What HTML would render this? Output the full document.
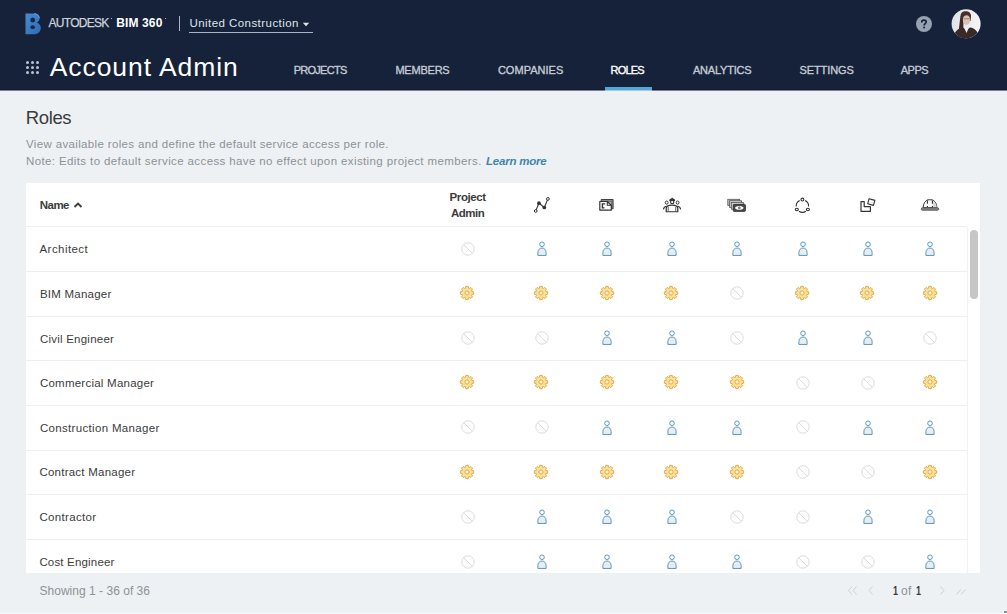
<!DOCTYPE html>
<html><head><meta charset="utf-8"><style>
html,body{margin:0;padding:0;}
body{width:1007px;height:614px;overflow:hidden;position:relative;background:#eef1f4;font-family:"Liberation Sans",sans-serif;}
.t{position:absolute;white-space:nowrap;}
svg{display:block;}
</style></head><body>
<div style="position:absolute;left:0;top:0;width:1007px;height:90px;background:#162239"></div><div style="position:absolute;left:0;top:89px;width:1007px;height:1px;background:#101a2d"></div><div style="position:absolute;left:0;top:90px;width:1007px;height:1px;background:#7c8491"></div><svg style="position:absolute;left:24px;top:12px" width="18" height="24" viewBox="0 0 18 24">
<defs><linearGradient id="bg" x1="0" y1="0" x2="1" y2="1"><stop offset="0" stop-color="#4a8bd2"/><stop offset="1" stop-color="#3069b3"/></linearGradient></defs>
<path d="M1.5 1.5 H10 C14 1.5 15.5 3.6 15.5 6.2 C15.5 8.4 14.3 9.8 12.6 10.6 C15 11.3 16.8 13.2 16.8 16 C16.8 19.7 14.3 22.3 9.6 22.3 H1.5 Z" fill="url(#bg)"/>
<ellipse cx="8.7" cy="8.0" rx="2.4" ry="2.5" fill="#15284a"/>
<ellipse cx="8.7" cy="15.2" rx="2.3" ry="1.9" fill="#15284a"/>
<path d="M10 1.8 C13.8 2 15.3 4 15.2 6.4" stroke="#7fb4e6" stroke-width="0.8" fill="none"/>
</svg><div class="t" style="left:48.6px;top:16px;font-size:12px;line-height:15px;color:#cdd3db;-webkit-text-stroke:0.25px #cdd3db;letter-spacing:-0.729px;">AUTODESK</div>
<div style="position:absolute;left:110.5px;top:18px;width:1.6px;height:1.3px;background:#aeb6c2"></div><div class="t" style="left:116.2px;top:16px;font-size:12px;line-height:15px;color:#ffffff;font-weight:bold;letter-spacing:0.133px;">BIM 360</div>
<div style="position:absolute;left:164.5px;top:18px;width:1.6px;height:1.3px;background:#aeb6c2"></div><div style="position:absolute;left:179px;top:16px;width:1px;height:15px;background:#aab4c2"></div><div class="t" style="left:189.4px;top:16px;font-size:11.5px;line-height:14px;color:#dfe4ea;letter-spacing:0.45px;">United Construction</div>
<svg style="position:absolute;left:302px;top:22px" width="8" height="5" viewBox="0 0 8 5"><path d="M0.8 0.8 H7.2 L4 4.2 Z" fill="#dfe4ea"/></svg><div style="position:absolute;left:189px;top:32px;width:124px;height:1px;background:#aab4c2"></div><svg style="position:absolute;left:916px;top:16px" width="16" height="16" viewBox="0 0 16 16"><circle cx="8" cy="8" r="8" fill="#96a2b2"/><path d="M5.7 6.4 C5.7 4.9 6.7 4.2 7.9 4.2 C9.2 4.2 10.2 5 10.2 6.1 C10.2 7.6 8.1 7.8 8.1 9.5" stroke="#17223a" stroke-width="1.7" fill="none"/><circle cx="8.1" cy="11.6" r="1.0" fill="#17223a"/></svg><svg style="position:absolute;left:951px;top:8.5px" width="30" height="30" viewBox="0 0 30 30">
<defs><clipPath id="av"><circle cx="15.1" cy="14.7" r="14.5"/></clipPath>
<linearGradient id="avbg" x1="0" y1="0" x2="1" y2="0"><stop offset="0" stop-color="#dfe3e7"/><stop offset="1" stop-color="#f3f5f7"/></linearGradient></defs>
<g clip-path="url(#av)">
<rect x="0" y="0" width="30" height="30" fill="url(#avbg)"/>
<path d="M9.5 7.5 C9.5 3.5 12 2.3 14.8 2.3 C18 2.3 20 4 20 7.5 L19.6 12 L11 12 Z" fill="#4b2f2a"/>
<path d="M9.6 7 C8.6 12 8.4 18 6.5 30 L12 30 L12.5 12 Z" fill="#3f2824"/>
<ellipse cx="15.5" cy="11" rx="3.7" ry="4.9" fill="#d9c2b4"/>
<path d="M11.6 8.2 C12.5 6 17 5.5 19.4 7.6 L19.5 5.5 C17 3.5 12.5 4 11.6 8.2Z" fill="#4b2f2a"/>
<path d="M12.5 9.8 H18.8" stroke="#6b5a55" stroke-width="0.6"/>
<path d="M2 30 C3 22.5 7 19 12 18.5 L15.5 21 L19 18.5 C24 19 27.5 22.5 28.5 30 Z" fill="#3a2a27"/>
<path d="M13.4 19.2 L15.5 24 L17.6 19.2 Z" fill="#f2f2f2"/>
</g>
</svg><div style="position:absolute;left:25.5px;top:60.5px;width:3.2px;height:3.2px;border-radius:50%;background:#b9c3d0"></div><div style="position:absolute;left:30.9px;top:60.5px;width:3.2px;height:3.2px;border-radius:50%;background:#b9c3d0"></div><div style="position:absolute;left:36.3px;top:60.5px;width:3.2px;height:3.2px;border-radius:50%;background:#b9c3d0"></div><div style="position:absolute;left:25.5px;top:65.9px;width:3.2px;height:3.2px;border-radius:50%;background:#b9c3d0"></div><div style="position:absolute;left:30.9px;top:65.9px;width:3.2px;height:3.2px;border-radius:50%;background:#b9c3d0"></div><div style="position:absolute;left:36.3px;top:65.9px;width:3.2px;height:3.2px;border-radius:50%;background:#b9c3d0"></div><div style="position:absolute;left:25.5px;top:71.3px;width:3.2px;height:3.2px;border-radius:50%;background:#b9c3d0"></div><div style="position:absolute;left:30.9px;top:71.3px;width:3.2px;height:3.2px;border-radius:50%;background:#b9c3d0"></div><div style="position:absolute;left:36.3px;top:71.3px;width:3.2px;height:3.2px;border-radius:50%;background:#b9c3d0"></div><div class="t" style="left:49.7px;top:51px;font-size:26.5px;line-height:33px;color:#ffffff;letter-spacing:0.942px;">Account Admin</div>
<div class="t" style="left:293.7px;top:63px;font-size:11px;line-height:14px;color:#c3cbd6;-webkit-text-stroke:0.35px #c3cbd6;letter-spacing:-0.729px;">PROJECTS</div>
<div class="t" style="left:395.4px;top:63px;font-size:11px;line-height:14px;color:#c3cbd6;-webkit-text-stroke:0.35px #c3cbd6;letter-spacing:-0.217px;">MEMBERS</div>
<div class="t" style="left:497.9px;top:63px;font-size:11px;line-height:14px;color:#c3cbd6;-webkit-text-stroke:0.35px #c3cbd6;letter-spacing:0.025px;">COMPANIES</div>
<div class="t" style="left:610.5px;top:63px;font-size:11px;line-height:14px;color:#ffffff;-webkit-text-stroke:0.35px #ffffff;letter-spacing:-0.775px;">ROLES</div>
<div class="t" style="left:692.9px;top:63px;font-size:11px;line-height:14px;color:#c3cbd6;-webkit-text-stroke:0.35px #c3cbd6;letter-spacing:-0.2px;">ANALYTICS</div>
<div class="t" style="left:799.5px;top:63px;font-size:11px;line-height:14px;color:#c3cbd6;-webkit-text-stroke:0.35px #c3cbd6;letter-spacing:-0.1px;">SETTINGS</div>
<div class="t" style="left:900.8px;top:63px;font-size:11px;line-height:14px;color:#c3cbd6;-webkit-text-stroke:0.35px #c3cbd6;letter-spacing:-0.533px;">APPS</div>
<div style="position:absolute;left:605px;top:87px;width:47px;height:3px;background:#52a6d8"></div><div style="position:absolute;left:605px;top:90px;width:47px;height:1px;background:#a3cbe2"></div><div class="t" style="left:25.8px;top:106px;font-size:18.5px;line-height:23px;color:#3c3c3c;letter-spacing:-0.375px;">Roles</div>
<div class="t" style="left:26.0px;top:137px;font-size:11.5px;line-height:14px;color:#8c9196;letter-spacing:0.348px;">View available roles and define the default service access per role.</div>
<div class="t" style="left:26.0px;top:154px;font-size:11.5px;line-height:14px;color:#8c9196;letter-spacing:0.387px;">Note: Edits to default service access have no effect upon existing project members.</div>
<div class="t" style="left:486.0px;top:154px;font-size:11.5px;line-height:14px;color:#3f85ab;font-weight:bold;font-style:italic;letter-spacing:-0.222px;">Learn more</div>
<div style="position:absolute;left:26px;top:183px;width:954px;height:390px;background:#ffffff"></div><div style="position:absolute;left:26px;top:226px;width:941px;height:1px;background:#eceff3"></div><div style="position:absolute;left:967px;top:227px;width:1px;height:346px;background:#f0f2f5"></div><div style="position:absolute;left:970px;top:230px;width:8px;height:69px;border-radius:4px;background:#c6c6c6"></div><div class="t" style="left:39.8px;top:198px;font-size:11.5px;line-height:14px;color:#3c3c3c;font-weight:bold;letter-spacing:-0.533px;">Name</div>
<svg style="position:absolute;left:73px;top:200.8px" width="10" height="8" viewBox="0 0 10 8"><path d="M1.5 6 L5 2.5 L8.5 6" stroke="#3c3c3c" stroke-width="1.8" fill="none"/></svg><div class="t" style="left:449.6px;top:190px;font-size:11.5px;line-height:14px;color:#3c3c3c;font-weight:bold;letter-spacing:-0.4px;">Project</div>
<div class="t" style="left:450.9px;top:206px;font-size:11.5px;line-height:14px;color:#3c3c3c;font-weight:bold;letter-spacing:-0.5px;">Admin</div>
<svg style="position:absolute;left:530px;top:195px" width="24" height="20" viewBox="0 0 24 20"><path d="M5.7 16 L8.96 8.14 L14.3 12.5 L17.9 3.9" stroke="#333333" stroke-width="1.1" fill="none"/><circle cx="5.7" cy="16" r="1.35" fill="#fff" stroke="#333333" stroke-width="1.0"/><circle cx="8.96" cy="8.14" r="1.85" fill="#333333"/><circle cx="14.3" cy="12.5" r="1.85" fill="#333333"/><circle cx="17.9" cy="3.9" r="1.4" fill="#fff" stroke="#333333" stroke-width="1.0"/></svg><svg style="position:absolute;left:594px;top:193px" width="26" height="22" viewBox="0 0 26 22"><path d="M7.2 6.5 H19.1 V15.8 H17.3 V8.5 H7.2 Z" fill="#8a8a8a" stroke="#333333" stroke-width="0.9" stroke-linejoin="round"/><path d="M13.3 8.5 H17.3 V12.4 Z" fill="#b5b5b5"/><path d="M5.8 8.5 H13.3 L17.3 12.4 V17.1 H5.8 Z" fill="#fff" stroke="#333333" stroke-width="1.2" stroke-linejoin="round"/><path d="M13.3 8.6 V12.3 H17.2" stroke="#333333" stroke-width="1.1" fill="none"/><path d="M11.2 10.9 H8.4 V14.9 H10.4" stroke="#333333" stroke-width="1.4" fill="none"/></svg><svg style="position:absolute;left:660px;top:194px" width="24" height="20" viewBox="0 0 24 20"><path d="M6.2 17.75 V14.5 C6.2 12.4 8.6 11.2 12 11.2 C15.4 11.2 17.8 12.4 17.8 14.5 V17.75 Z" fill="#fff" stroke="#333333" stroke-width="1.2" stroke-linejoin="round"/><path d="M8.2 13 V17.2 M15.8 13 V17.2" stroke="#333333" stroke-width="0.8"/><circle cx="12.2" cy="8.1" r="1.7" fill="#fff" stroke="#333333" stroke-width="1.1"/><path d="M9.2 7 C9.2 5.2 10.5 4.6 12.2 4.6 C13.9 4.6 15.2 5.2 15.2 7 Z" fill="#333333"/><rect x="11.6" y="3.8" width="1.2" height="1.4" fill="#333333"/><ellipse cx="6.7" cy="8.6" rx="1.4" ry="1.6" fill="#fff" stroke="#333333" stroke-width="1.0"/><ellipse cx="17.6" cy="8.6" rx="1.4" ry="1.6" fill="#fff" stroke="#333333" stroke-width="1.0"/><path d="M3.4 15.4 C3.8 13.6 5 12.5 6.8 12.3" stroke="#333333" stroke-width="1.1" fill="none"/><path d="M20.7 15.4 C20.3 13.6 19.1 12.5 17.3 12.3" stroke="#333333" stroke-width="1.1" fill="none"/></svg><svg style="position:absolute;left:725px;top:194px" width="24" height="20" viewBox="0 0 24 20"><rect x="2.8" y="5.3" width="11.8" height="6.2" fill="#c4c4c4" stroke="#555" stroke-width="0.8"/><rect x="4.6" y="6.7" width="11.9" height="6.8" fill="#cdcdcd" stroke="#555" stroke-width="0.8"/><rect x="6.3" y="8.4" width="12" height="6.8" fill="#d4d4d4" stroke="#555" stroke-width="0.8"/><rect x="8.3" y="10.4" width="12" height="6.9" rx="0.6" fill="#4a4a4a" stroke="#333" stroke-width="1.0"/><path d="M9.9 13.9 C11.6 11.3 17 11.3 18.7 13.9 C17 16.5 11.6 16.5 9.9 13.9 Z" fill="#fff"/><circle cx="14.3" cy="13.8" r="1.5" fill="#888"/></svg><svg style="position:absolute;left:790px;top:194px" width="24" height="20" viewBox="0 0 24 20"><path d="M15.12 6.48 A6.2 6.2 0 0 1 18.58 12.48 M15.87 17.19 A6.2 6.2 0 0 1 8.93 17.19 M6.22 12.48 A6.2 6.2 0 0 1 9.68 6.48 " fill="none" stroke="#333333" stroke-width="1.1"/><circle cx="12.4" cy="5.6" r="1.45" fill="#fff" stroke="#333333" stroke-width="1.1"/><ellipse cx="6.8" cy="15.5" rx="1.55" ry="1.25" fill="#fff" stroke="#333333" stroke-width="1.1"/><ellipse cx="17.9" cy="15.5" rx="1.55" ry="1.25" fill="#fff" stroke="#333333" stroke-width="1.1"/></svg><svg style="position:absolute;left:856px;top:194px" width="24" height="20" viewBox="0 0 24 20"><path d="M5 7.6 H8.2 V12.6 H14.4 V17.3 H5 Z" fill="#fff" stroke="#333333" stroke-width="1.2" stroke-linejoin="round"/><path d="M13.1 4.7 L18.9 6.4 L17.4 11.4 L11.7 9.7 Z" fill="#f4f4f4" stroke="#333333" stroke-width="1.1" stroke-linejoin="round"/></svg><svg style="position:absolute;left:918px;top:194px" width="24" height="20" viewBox="0 0 24 20"><path d="M5.2 13.8 C5.3 8.6 8 5.6 12 5.6 C16 5.6 18.8 8.6 18.9 13.8 Z" fill="#fff" stroke="#333333" stroke-width="1.0"/><path d="M14.6 6.4 C17 7.6 18.6 10 18.8 13.6 H14.6 Z" fill="#d8d8d8"/><path d="M9.4 5.6 H14.4" stroke="#777" stroke-width="1.2"/><path d="M9.4 6.6 V9.8 M14.4 6.6 V9.8 M9.4 11.9 V13.6 M14.4 11.9 V13.6" stroke="#333333" stroke-width="1.1"/><rect x="3.3" y="13.8" width="17.4" height="2.4" rx="1.1" fill="#8c8c8c" stroke="#444" stroke-width="0.8"/></svg><div style="position:absolute;left:26px;top:271px;width:941px;height:1px;background:#eceff3"></div><div class="t" style="left:39.5px;top:242px;font-size:11.5px;line-height:14px;color:#3c3c3c;letter-spacing:0.438px;">Architect</div>
<div style="position:absolute;left:459.50px;top:240.50px;width:16px;height:16px"><svg width="16" height="16" viewBox="0 0 16 16"><circle cx="8" cy="8" r="6.2" fill="none" stroke="#d9dcdf" stroke-width="1.0"/><path d="M3.7 3.7 L12.3 12.3" stroke="#d9dcdf" stroke-width="1.0"/></svg></div><div style="position:absolute;left:533.70px;top:240.70px;width:16px;height:16px"><svg width="16" height="16" viewBox="0 0 16 16"><circle cx="8" cy="3.25" r="2.3" fill="#fff" stroke="#4f94ba" stroke-width="0.95"/><path d="M3.9 14.45 V11.7 C3.9 8.7 5.8 7.0 8 7.0 C10.2 7.0 12.1 8.7 12.1 11.7 V14.45 Z" fill="#eaedf0" stroke="#4f94ba" stroke-width="0.95" stroke-linejoin="round"/></svg></div><div style="position:absolute;left:598.90px;top:240.70px;width:16px;height:16px"><svg width="16" height="16" viewBox="0 0 16 16"><circle cx="8" cy="3.25" r="2.3" fill="#fff" stroke="#4f94ba" stroke-width="0.95"/><path d="M3.9 14.45 V11.7 C3.9 8.7 5.8 7.0 8 7.0 C10.2 7.0 12.1 8.7 12.1 11.7 V14.45 Z" fill="#eaedf0" stroke="#4f94ba" stroke-width="0.95" stroke-linejoin="round"/></svg></div><div style="position:absolute;left:663.70px;top:240.70px;width:16px;height:16px"><svg width="16" height="16" viewBox="0 0 16 16"><circle cx="8" cy="3.25" r="2.3" fill="#fff" stroke="#4f94ba" stroke-width="0.95"/><path d="M3.9 14.45 V11.7 C3.9 8.7 5.8 7.0 8 7.0 C10.2 7.0 12.1 8.7 12.1 11.7 V14.45 Z" fill="#eaedf0" stroke="#4f94ba" stroke-width="0.95" stroke-linejoin="round"/></svg></div><div style="position:absolute;left:729.30px;top:240.70px;width:16px;height:16px"><svg width="16" height="16" viewBox="0 0 16 16"><circle cx="8" cy="3.25" r="2.3" fill="#fff" stroke="#4f94ba" stroke-width="0.95"/><path d="M3.9 14.45 V11.7 C3.9 8.7 5.8 7.0 8 7.0 C10.2 7.0 12.1 8.7 12.1 11.7 V14.45 Z" fill="#eaedf0" stroke="#4f94ba" stroke-width="0.95" stroke-linejoin="round"/></svg></div><div style="position:absolute;left:794.50px;top:240.70px;width:16px;height:16px"><svg width="16" height="16" viewBox="0 0 16 16"><circle cx="8" cy="3.25" r="2.3" fill="#fff" stroke="#4f94ba" stroke-width="0.95"/><path d="M3.9 14.45 V11.7 C3.9 8.7 5.8 7.0 8 7.0 C10.2 7.0 12.1 8.7 12.1 11.7 V14.45 Z" fill="#eaedf0" stroke="#4f94ba" stroke-width="0.95" stroke-linejoin="round"/></svg></div><div style="position:absolute;left:859.50px;top:240.70px;width:16px;height:16px"><svg width="16" height="16" viewBox="0 0 16 16"><circle cx="8" cy="3.25" r="2.3" fill="#fff" stroke="#4f94ba" stroke-width="0.95"/><path d="M3.9 14.45 V11.7 C3.9 8.7 5.8 7.0 8 7.0 C10.2 7.0 12.1 8.7 12.1 11.7 V14.45 Z" fill="#eaedf0" stroke="#4f94ba" stroke-width="0.95" stroke-linejoin="round"/></svg></div><div style="position:absolute;left:922.00px;top:240.70px;width:16px;height:16px"><svg width="16" height="16" viewBox="0 0 16 16"><circle cx="8" cy="3.25" r="2.3" fill="#fff" stroke="#4f94ba" stroke-width="0.95"/><path d="M3.9 14.45 V11.7 C3.9 8.7 5.8 7.0 8 7.0 C10.2 7.0 12.1 8.7 12.1 11.7 V14.45 Z" fill="#eaedf0" stroke="#4f94ba" stroke-width="0.95" stroke-linejoin="round"/></svg></div><div style="position:absolute;left:26px;top:316px;width:941px;height:1px;background:#eceff3"></div><div class="t" style="left:39.9px;top:287px;font-size:11.5px;line-height:14px;color:#3c3c3c;letter-spacing:0.24px;">BIM Manager</div>
<div style="position:absolute;left:459.10px;top:285.00px;width:16px;height:16px"><svg width="16" height="16" viewBox="0 0 16 16"><path d="M6.37 3.27 L6.83 1.35 L9.17 1.35 L9.63 3.27 L10.19 3.51 L11.87 2.47 L13.53 4.13 L12.49 5.81 L12.73 6.37 L14.65 6.83 L14.65 9.17 L12.73 9.63 L12.49 10.19 L13.53 11.87 L11.87 13.53 L10.19 12.49 L9.63 12.73 L9.17 14.65 L6.83 14.65 L6.37 12.73 L5.81 12.49 L4.13 13.53 L2.47 11.87 L3.51 10.19 L3.27 9.63 L1.35 9.17 L1.35 6.83 L3.27 6.37 L3.51 5.81 L2.47 4.13 L4.13 2.47 L5.81 3.51Z" fill="#fbe09a" stroke="#dca744" stroke-width="0.95" stroke-linejoin="round"/><circle cx="8" cy="8" r="2.1" fill="#fff3cc" stroke="#dca744" stroke-width="0.9"/></svg></div><div style="position:absolute;left:533.30px;top:285.00px;width:16px;height:16px"><svg width="16" height="16" viewBox="0 0 16 16"><path d="M6.37 3.27 L6.83 1.35 L9.17 1.35 L9.63 3.27 L10.19 3.51 L11.87 2.47 L13.53 4.13 L12.49 5.81 L12.73 6.37 L14.65 6.83 L14.65 9.17 L12.73 9.63 L12.49 10.19 L13.53 11.87 L11.87 13.53 L10.19 12.49 L9.63 12.73 L9.17 14.65 L6.83 14.65 L6.37 12.73 L5.81 12.49 L4.13 13.53 L2.47 11.87 L3.51 10.19 L3.27 9.63 L1.35 9.17 L1.35 6.83 L3.27 6.37 L3.51 5.81 L2.47 4.13 L4.13 2.47 L5.81 3.51Z" fill="#fbe09a" stroke="#dca744" stroke-width="0.95" stroke-linejoin="round"/><circle cx="8" cy="8" r="2.1" fill="#fff3cc" stroke="#dca744" stroke-width="0.9"/></svg></div><div style="position:absolute;left:598.50px;top:285.00px;width:16px;height:16px"><svg width="16" height="16" viewBox="0 0 16 16"><path d="M6.37 3.27 L6.83 1.35 L9.17 1.35 L9.63 3.27 L10.19 3.51 L11.87 2.47 L13.53 4.13 L12.49 5.81 L12.73 6.37 L14.65 6.83 L14.65 9.17 L12.73 9.63 L12.49 10.19 L13.53 11.87 L11.87 13.53 L10.19 12.49 L9.63 12.73 L9.17 14.65 L6.83 14.65 L6.37 12.73 L5.81 12.49 L4.13 13.53 L2.47 11.87 L3.51 10.19 L3.27 9.63 L1.35 9.17 L1.35 6.83 L3.27 6.37 L3.51 5.81 L2.47 4.13 L4.13 2.47 L5.81 3.51Z" fill="#fbe09a" stroke="#dca744" stroke-width="0.95" stroke-linejoin="round"/><circle cx="8" cy="8" r="2.1" fill="#fff3cc" stroke="#dca744" stroke-width="0.9"/></svg></div><div style="position:absolute;left:663.30px;top:285.00px;width:16px;height:16px"><svg width="16" height="16" viewBox="0 0 16 16"><path d="M6.37 3.27 L6.83 1.35 L9.17 1.35 L9.63 3.27 L10.19 3.51 L11.87 2.47 L13.53 4.13 L12.49 5.81 L12.73 6.37 L14.65 6.83 L14.65 9.17 L12.73 9.63 L12.49 10.19 L13.53 11.87 L11.87 13.53 L10.19 12.49 L9.63 12.73 L9.17 14.65 L6.83 14.65 L6.37 12.73 L5.81 12.49 L4.13 13.53 L2.47 11.87 L3.51 10.19 L3.27 9.63 L1.35 9.17 L1.35 6.83 L3.27 6.37 L3.51 5.81 L2.47 4.13 L4.13 2.47 L5.81 3.51Z" fill="#fbe09a" stroke="#dca744" stroke-width="0.95" stroke-linejoin="round"/><circle cx="8" cy="8" r="2.1" fill="#fff3cc" stroke="#dca744" stroke-width="0.9"/></svg></div><div style="position:absolute;left:729.30px;top:285.23px;width:16px;height:16px"><svg width="16" height="16" viewBox="0 0 16 16"><circle cx="8" cy="8" r="6.2" fill="none" stroke="#d9dcdf" stroke-width="1.0"/><path d="M3.7 3.7 L12.3 12.3" stroke="#d9dcdf" stroke-width="1.0"/></svg></div><div style="position:absolute;left:794.10px;top:285.00px;width:16px;height:16px"><svg width="16" height="16" viewBox="0 0 16 16"><path d="M6.37 3.27 L6.83 1.35 L9.17 1.35 L9.63 3.27 L10.19 3.51 L11.87 2.47 L13.53 4.13 L12.49 5.81 L12.73 6.37 L14.65 6.83 L14.65 9.17 L12.73 9.63 L12.49 10.19 L13.53 11.87 L11.87 13.53 L10.19 12.49 L9.63 12.73 L9.17 14.65 L6.83 14.65 L6.37 12.73 L5.81 12.49 L4.13 13.53 L2.47 11.87 L3.51 10.19 L3.27 9.63 L1.35 9.17 L1.35 6.83 L3.27 6.37 L3.51 5.81 L2.47 4.13 L4.13 2.47 L5.81 3.51Z" fill="#fbe09a" stroke="#dca744" stroke-width="0.95" stroke-linejoin="round"/><circle cx="8" cy="8" r="2.1" fill="#fff3cc" stroke="#dca744" stroke-width="0.9"/></svg></div><div style="position:absolute;left:859.10px;top:285.00px;width:16px;height:16px"><svg width="16" height="16" viewBox="0 0 16 16"><path d="M6.37 3.27 L6.83 1.35 L9.17 1.35 L9.63 3.27 L10.19 3.51 L11.87 2.47 L13.53 4.13 L12.49 5.81 L12.73 6.37 L14.65 6.83 L14.65 9.17 L12.73 9.63 L12.49 10.19 L13.53 11.87 L11.87 13.53 L10.19 12.49 L9.63 12.73 L9.17 14.65 L6.83 14.65 L6.37 12.73 L5.81 12.49 L4.13 13.53 L2.47 11.87 L3.51 10.19 L3.27 9.63 L1.35 9.17 L1.35 6.83 L3.27 6.37 L3.51 5.81 L2.47 4.13 L4.13 2.47 L5.81 3.51Z" fill="#fbe09a" stroke="#dca744" stroke-width="0.95" stroke-linejoin="round"/><circle cx="8" cy="8" r="2.1" fill="#fff3cc" stroke="#dca744" stroke-width="0.9"/></svg></div><div style="position:absolute;left:921.60px;top:285.00px;width:16px;height:16px"><svg width="16" height="16" viewBox="0 0 16 16"><path d="M6.37 3.27 L6.83 1.35 L9.17 1.35 L9.63 3.27 L10.19 3.51 L11.87 2.47 L13.53 4.13 L12.49 5.81 L12.73 6.37 L14.65 6.83 L14.65 9.17 L12.73 9.63 L12.49 10.19 L13.53 11.87 L11.87 13.53 L10.19 12.49 L9.63 12.73 L9.17 14.65 L6.83 14.65 L6.37 12.73 L5.81 12.49 L4.13 13.53 L2.47 11.87 L3.51 10.19 L3.27 9.63 L1.35 9.17 L1.35 6.83 L3.27 6.37 L3.51 5.81 L2.47 4.13 L4.13 2.47 L5.81 3.51Z" fill="#fbe09a" stroke="#dca744" stroke-width="0.95" stroke-linejoin="round"/><circle cx="8" cy="8" r="2.1" fill="#fff3cc" stroke="#dca744" stroke-width="0.9"/></svg></div><div style="position:absolute;left:26px;top:360px;width:941px;height:1px;background:#eceff3"></div><div class="t" style="left:39.9px;top:332px;font-size:11.5px;line-height:14px;color:#3c3c3c;letter-spacing:0.231px;">Civil Engineer</div>
<div style="position:absolute;left:459.50px;top:329.96px;width:16px;height:16px"><svg width="16" height="16" viewBox="0 0 16 16"><circle cx="8" cy="8" r="6.2" fill="none" stroke="#d9dcdf" stroke-width="1.0"/><path d="M3.7 3.7 L12.3 12.3" stroke="#d9dcdf" stroke-width="1.0"/></svg></div><div style="position:absolute;left:533.70px;top:329.96px;width:16px;height:16px"><svg width="16" height="16" viewBox="0 0 16 16"><circle cx="8" cy="8" r="6.2" fill="none" stroke="#d9dcdf" stroke-width="1.0"/><path d="M3.7 3.7 L12.3 12.3" stroke="#d9dcdf" stroke-width="1.0"/></svg></div><div style="position:absolute;left:598.90px;top:330.16px;width:16px;height:16px"><svg width="16" height="16" viewBox="0 0 16 16"><circle cx="8" cy="3.25" r="2.3" fill="#fff" stroke="#4f94ba" stroke-width="0.95"/><path d="M3.9 14.45 V11.7 C3.9 8.7 5.8 7.0 8 7.0 C10.2 7.0 12.1 8.7 12.1 11.7 V14.45 Z" fill="#eaedf0" stroke="#4f94ba" stroke-width="0.95" stroke-linejoin="round"/></svg></div><div style="position:absolute;left:663.70px;top:330.16px;width:16px;height:16px"><svg width="16" height="16" viewBox="0 0 16 16"><circle cx="8" cy="3.25" r="2.3" fill="#fff" stroke="#4f94ba" stroke-width="0.95"/><path d="M3.9 14.45 V11.7 C3.9 8.7 5.8 7.0 8 7.0 C10.2 7.0 12.1 8.7 12.1 11.7 V14.45 Z" fill="#eaedf0" stroke="#4f94ba" stroke-width="0.95" stroke-linejoin="round"/></svg></div><div style="position:absolute;left:729.30px;top:329.96px;width:16px;height:16px"><svg width="16" height="16" viewBox="0 0 16 16"><circle cx="8" cy="8" r="6.2" fill="none" stroke="#d9dcdf" stroke-width="1.0"/><path d="M3.7 3.7 L12.3 12.3" stroke="#d9dcdf" stroke-width="1.0"/></svg></div><div style="position:absolute;left:794.50px;top:330.16px;width:16px;height:16px"><svg width="16" height="16" viewBox="0 0 16 16"><circle cx="8" cy="3.25" r="2.3" fill="#fff" stroke="#4f94ba" stroke-width="0.95"/><path d="M3.9 14.45 V11.7 C3.9 8.7 5.8 7.0 8 7.0 C10.2 7.0 12.1 8.7 12.1 11.7 V14.45 Z" fill="#eaedf0" stroke="#4f94ba" stroke-width="0.95" stroke-linejoin="round"/></svg></div><div style="position:absolute;left:859.50px;top:330.16px;width:16px;height:16px"><svg width="16" height="16" viewBox="0 0 16 16"><circle cx="8" cy="3.25" r="2.3" fill="#fff" stroke="#4f94ba" stroke-width="0.95"/><path d="M3.9 14.45 V11.7 C3.9 8.7 5.8 7.0 8 7.0 C10.2 7.0 12.1 8.7 12.1 11.7 V14.45 Z" fill="#eaedf0" stroke="#4f94ba" stroke-width="0.95" stroke-linejoin="round"/></svg></div><div style="position:absolute;left:922.00px;top:329.96px;width:16px;height:16px"><svg width="16" height="16" viewBox="0 0 16 16"><circle cx="8" cy="8" r="6.2" fill="none" stroke="#d9dcdf" stroke-width="1.0"/><path d="M3.7 3.7 L12.3 12.3" stroke="#d9dcdf" stroke-width="1.0"/></svg></div><div style="position:absolute;left:26px;top:405px;width:941px;height:1px;background:#eceff3"></div><div class="t" style="left:39.9px;top:376px;font-size:11.5px;line-height:14px;color:#3c3c3c;letter-spacing:0.241px;">Commercial Manager</div>
<div style="position:absolute;left:459.10px;top:374.46px;width:16px;height:16px"><svg width="16" height="16" viewBox="0 0 16 16"><path d="M6.37 3.27 L6.83 1.35 L9.17 1.35 L9.63 3.27 L10.19 3.51 L11.87 2.47 L13.53 4.13 L12.49 5.81 L12.73 6.37 L14.65 6.83 L14.65 9.17 L12.73 9.63 L12.49 10.19 L13.53 11.87 L11.87 13.53 L10.19 12.49 L9.63 12.73 L9.17 14.65 L6.83 14.65 L6.37 12.73 L5.81 12.49 L4.13 13.53 L2.47 11.87 L3.51 10.19 L3.27 9.63 L1.35 9.17 L1.35 6.83 L3.27 6.37 L3.51 5.81 L2.47 4.13 L4.13 2.47 L5.81 3.51Z" fill="#fbe09a" stroke="#dca744" stroke-width="0.95" stroke-linejoin="round"/><circle cx="8" cy="8" r="2.1" fill="#fff3cc" stroke="#dca744" stroke-width="0.9"/></svg></div><div style="position:absolute;left:533.30px;top:374.46px;width:16px;height:16px"><svg width="16" height="16" viewBox="0 0 16 16"><path d="M6.37 3.27 L6.83 1.35 L9.17 1.35 L9.63 3.27 L10.19 3.51 L11.87 2.47 L13.53 4.13 L12.49 5.81 L12.73 6.37 L14.65 6.83 L14.65 9.17 L12.73 9.63 L12.49 10.19 L13.53 11.87 L11.87 13.53 L10.19 12.49 L9.63 12.73 L9.17 14.65 L6.83 14.65 L6.37 12.73 L5.81 12.49 L4.13 13.53 L2.47 11.87 L3.51 10.19 L3.27 9.63 L1.35 9.17 L1.35 6.83 L3.27 6.37 L3.51 5.81 L2.47 4.13 L4.13 2.47 L5.81 3.51Z" fill="#fbe09a" stroke="#dca744" stroke-width="0.95" stroke-linejoin="round"/><circle cx="8" cy="8" r="2.1" fill="#fff3cc" stroke="#dca744" stroke-width="0.9"/></svg></div><div style="position:absolute;left:598.50px;top:374.46px;width:16px;height:16px"><svg width="16" height="16" viewBox="0 0 16 16"><path d="M6.37 3.27 L6.83 1.35 L9.17 1.35 L9.63 3.27 L10.19 3.51 L11.87 2.47 L13.53 4.13 L12.49 5.81 L12.73 6.37 L14.65 6.83 L14.65 9.17 L12.73 9.63 L12.49 10.19 L13.53 11.87 L11.87 13.53 L10.19 12.49 L9.63 12.73 L9.17 14.65 L6.83 14.65 L6.37 12.73 L5.81 12.49 L4.13 13.53 L2.47 11.87 L3.51 10.19 L3.27 9.63 L1.35 9.17 L1.35 6.83 L3.27 6.37 L3.51 5.81 L2.47 4.13 L4.13 2.47 L5.81 3.51Z" fill="#fbe09a" stroke="#dca744" stroke-width="0.95" stroke-linejoin="round"/><circle cx="8" cy="8" r="2.1" fill="#fff3cc" stroke="#dca744" stroke-width="0.9"/></svg></div><div style="position:absolute;left:663.30px;top:374.46px;width:16px;height:16px"><svg width="16" height="16" viewBox="0 0 16 16"><path d="M6.37 3.27 L6.83 1.35 L9.17 1.35 L9.63 3.27 L10.19 3.51 L11.87 2.47 L13.53 4.13 L12.49 5.81 L12.73 6.37 L14.65 6.83 L14.65 9.17 L12.73 9.63 L12.49 10.19 L13.53 11.87 L11.87 13.53 L10.19 12.49 L9.63 12.73 L9.17 14.65 L6.83 14.65 L6.37 12.73 L5.81 12.49 L4.13 13.53 L2.47 11.87 L3.51 10.19 L3.27 9.63 L1.35 9.17 L1.35 6.83 L3.27 6.37 L3.51 5.81 L2.47 4.13 L4.13 2.47 L5.81 3.51Z" fill="#fbe09a" stroke="#dca744" stroke-width="0.95" stroke-linejoin="round"/><circle cx="8" cy="8" r="2.1" fill="#fff3cc" stroke="#dca744" stroke-width="0.9"/></svg></div><div style="position:absolute;left:728.90px;top:374.46px;width:16px;height:16px"><svg width="16" height="16" viewBox="0 0 16 16"><path d="M6.37 3.27 L6.83 1.35 L9.17 1.35 L9.63 3.27 L10.19 3.51 L11.87 2.47 L13.53 4.13 L12.49 5.81 L12.73 6.37 L14.65 6.83 L14.65 9.17 L12.73 9.63 L12.49 10.19 L13.53 11.87 L11.87 13.53 L10.19 12.49 L9.63 12.73 L9.17 14.65 L6.83 14.65 L6.37 12.73 L5.81 12.49 L4.13 13.53 L2.47 11.87 L3.51 10.19 L3.27 9.63 L1.35 9.17 L1.35 6.83 L3.27 6.37 L3.51 5.81 L2.47 4.13 L4.13 2.47 L5.81 3.51Z" fill="#fbe09a" stroke="#dca744" stroke-width="0.95" stroke-linejoin="round"/><circle cx="8" cy="8" r="2.1" fill="#fff3cc" stroke="#dca744" stroke-width="0.9"/></svg></div><div style="position:absolute;left:794.50px;top:374.69px;width:16px;height:16px"><svg width="16" height="16" viewBox="0 0 16 16"><circle cx="8" cy="8" r="6.2" fill="none" stroke="#d9dcdf" stroke-width="1.0"/><path d="M3.7 3.7 L12.3 12.3" stroke="#d9dcdf" stroke-width="1.0"/></svg></div><div style="position:absolute;left:859.50px;top:374.69px;width:16px;height:16px"><svg width="16" height="16" viewBox="0 0 16 16"><circle cx="8" cy="8" r="6.2" fill="none" stroke="#d9dcdf" stroke-width="1.0"/><path d="M3.7 3.7 L12.3 12.3" stroke="#d9dcdf" stroke-width="1.0"/></svg></div><div style="position:absolute;left:921.60px;top:374.46px;width:16px;height:16px"><svg width="16" height="16" viewBox="0 0 16 16"><path d="M6.37 3.27 L6.83 1.35 L9.17 1.35 L9.63 3.27 L10.19 3.51 L11.87 2.47 L13.53 4.13 L12.49 5.81 L12.73 6.37 L14.65 6.83 L14.65 9.17 L12.73 9.63 L12.49 10.19 L13.53 11.87 L11.87 13.53 L10.19 12.49 L9.63 12.73 L9.17 14.65 L6.83 14.65 L6.37 12.73 L5.81 12.49 L4.13 13.53 L2.47 11.87 L3.51 10.19 L3.27 9.63 L1.35 9.17 L1.35 6.83 L3.27 6.37 L3.51 5.81 L2.47 4.13 L4.13 2.47 L5.81 3.51Z" fill="#fbe09a" stroke="#dca744" stroke-width="0.95" stroke-linejoin="round"/><circle cx="8" cy="8" r="2.1" fill="#fff3cc" stroke="#dca744" stroke-width="0.9"/></svg></div><div style="position:absolute;left:26px;top:450px;width:941px;height:1px;background:#eceff3"></div><div class="t" style="left:39.9px;top:421px;font-size:11.5px;line-height:14px;color:#3c3c3c;letter-spacing:0.332px;">Construction Manager</div>
<div style="position:absolute;left:459.50px;top:419.42px;width:16px;height:16px"><svg width="16" height="16" viewBox="0 0 16 16"><circle cx="8" cy="8" r="6.2" fill="none" stroke="#d9dcdf" stroke-width="1.0"/><path d="M3.7 3.7 L12.3 12.3" stroke="#d9dcdf" stroke-width="1.0"/></svg></div><div style="position:absolute;left:533.70px;top:419.42px;width:16px;height:16px"><svg width="16" height="16" viewBox="0 0 16 16"><circle cx="8" cy="8" r="6.2" fill="none" stroke="#d9dcdf" stroke-width="1.0"/><path d="M3.7 3.7 L12.3 12.3" stroke="#d9dcdf" stroke-width="1.0"/></svg></div><div style="position:absolute;left:598.90px;top:419.62px;width:16px;height:16px"><svg width="16" height="16" viewBox="0 0 16 16"><circle cx="8" cy="3.25" r="2.3" fill="#fff" stroke="#4f94ba" stroke-width="0.95"/><path d="M3.9 14.45 V11.7 C3.9 8.7 5.8 7.0 8 7.0 C10.2 7.0 12.1 8.7 12.1 11.7 V14.45 Z" fill="#eaedf0" stroke="#4f94ba" stroke-width="0.95" stroke-linejoin="round"/></svg></div><div style="position:absolute;left:663.70px;top:419.62px;width:16px;height:16px"><svg width="16" height="16" viewBox="0 0 16 16"><circle cx="8" cy="3.25" r="2.3" fill="#fff" stroke="#4f94ba" stroke-width="0.95"/><path d="M3.9 14.45 V11.7 C3.9 8.7 5.8 7.0 8 7.0 C10.2 7.0 12.1 8.7 12.1 11.7 V14.45 Z" fill="#eaedf0" stroke="#4f94ba" stroke-width="0.95" stroke-linejoin="round"/></svg></div><div style="position:absolute;left:729.30px;top:419.62px;width:16px;height:16px"><svg width="16" height="16" viewBox="0 0 16 16"><circle cx="8" cy="3.25" r="2.3" fill="#fff" stroke="#4f94ba" stroke-width="0.95"/><path d="M3.9 14.45 V11.7 C3.9 8.7 5.8 7.0 8 7.0 C10.2 7.0 12.1 8.7 12.1 11.7 V14.45 Z" fill="#eaedf0" stroke="#4f94ba" stroke-width="0.95" stroke-linejoin="round"/></svg></div><div style="position:absolute;left:794.50px;top:419.42px;width:16px;height:16px"><svg width="16" height="16" viewBox="0 0 16 16"><circle cx="8" cy="8" r="6.2" fill="none" stroke="#d9dcdf" stroke-width="1.0"/><path d="M3.7 3.7 L12.3 12.3" stroke="#d9dcdf" stroke-width="1.0"/></svg></div><div style="position:absolute;left:859.50px;top:419.62px;width:16px;height:16px"><svg width="16" height="16" viewBox="0 0 16 16"><circle cx="8" cy="3.25" r="2.3" fill="#fff" stroke="#4f94ba" stroke-width="0.95"/><path d="M3.9 14.45 V11.7 C3.9 8.7 5.8 7.0 8 7.0 C10.2 7.0 12.1 8.7 12.1 11.7 V14.45 Z" fill="#eaedf0" stroke="#4f94ba" stroke-width="0.95" stroke-linejoin="round"/></svg></div><div style="position:absolute;left:922.00px;top:419.62px;width:16px;height:16px"><svg width="16" height="16" viewBox="0 0 16 16"><circle cx="8" cy="3.25" r="2.3" fill="#fff" stroke="#4f94ba" stroke-width="0.95"/><path d="M3.9 14.45 V11.7 C3.9 8.7 5.8 7.0 8 7.0 C10.2 7.0 12.1 8.7 12.1 11.7 V14.45 Z" fill="#eaedf0" stroke="#4f94ba" stroke-width="0.95" stroke-linejoin="round"/></svg></div><div style="position:absolute;left:26px;top:494px;width:941px;height:1px;background:#eceff3"></div><div class="t" style="left:39.4px;top:465px;font-size:11.5px;line-height:14px;color:#3c3c3c;letter-spacing:0.24px;">Contract Manager</div>
<div style="position:absolute;left:459.10px;top:463.92px;width:16px;height:16px"><svg width="16" height="16" viewBox="0 0 16 16"><path d="M6.37 3.27 L6.83 1.35 L9.17 1.35 L9.63 3.27 L10.19 3.51 L11.87 2.47 L13.53 4.13 L12.49 5.81 L12.73 6.37 L14.65 6.83 L14.65 9.17 L12.73 9.63 L12.49 10.19 L13.53 11.87 L11.87 13.53 L10.19 12.49 L9.63 12.73 L9.17 14.65 L6.83 14.65 L6.37 12.73 L5.81 12.49 L4.13 13.53 L2.47 11.87 L3.51 10.19 L3.27 9.63 L1.35 9.17 L1.35 6.83 L3.27 6.37 L3.51 5.81 L2.47 4.13 L4.13 2.47 L5.81 3.51Z" fill="#fbe09a" stroke="#dca744" stroke-width="0.95" stroke-linejoin="round"/><circle cx="8" cy="8" r="2.1" fill="#fff3cc" stroke="#dca744" stroke-width="0.9"/></svg></div><div style="position:absolute;left:533.30px;top:463.92px;width:16px;height:16px"><svg width="16" height="16" viewBox="0 0 16 16"><path d="M6.37 3.27 L6.83 1.35 L9.17 1.35 L9.63 3.27 L10.19 3.51 L11.87 2.47 L13.53 4.13 L12.49 5.81 L12.73 6.37 L14.65 6.83 L14.65 9.17 L12.73 9.63 L12.49 10.19 L13.53 11.87 L11.87 13.53 L10.19 12.49 L9.63 12.73 L9.17 14.65 L6.83 14.65 L6.37 12.73 L5.81 12.49 L4.13 13.53 L2.47 11.87 L3.51 10.19 L3.27 9.63 L1.35 9.17 L1.35 6.83 L3.27 6.37 L3.51 5.81 L2.47 4.13 L4.13 2.47 L5.81 3.51Z" fill="#fbe09a" stroke="#dca744" stroke-width="0.95" stroke-linejoin="round"/><circle cx="8" cy="8" r="2.1" fill="#fff3cc" stroke="#dca744" stroke-width="0.9"/></svg></div><div style="position:absolute;left:598.50px;top:463.92px;width:16px;height:16px"><svg width="16" height="16" viewBox="0 0 16 16"><path d="M6.37 3.27 L6.83 1.35 L9.17 1.35 L9.63 3.27 L10.19 3.51 L11.87 2.47 L13.53 4.13 L12.49 5.81 L12.73 6.37 L14.65 6.83 L14.65 9.17 L12.73 9.63 L12.49 10.19 L13.53 11.87 L11.87 13.53 L10.19 12.49 L9.63 12.73 L9.17 14.65 L6.83 14.65 L6.37 12.73 L5.81 12.49 L4.13 13.53 L2.47 11.87 L3.51 10.19 L3.27 9.63 L1.35 9.17 L1.35 6.83 L3.27 6.37 L3.51 5.81 L2.47 4.13 L4.13 2.47 L5.81 3.51Z" fill="#fbe09a" stroke="#dca744" stroke-width="0.95" stroke-linejoin="round"/><circle cx="8" cy="8" r="2.1" fill="#fff3cc" stroke="#dca744" stroke-width="0.9"/></svg></div><div style="position:absolute;left:663.30px;top:463.92px;width:16px;height:16px"><svg width="16" height="16" viewBox="0 0 16 16"><path d="M6.37 3.27 L6.83 1.35 L9.17 1.35 L9.63 3.27 L10.19 3.51 L11.87 2.47 L13.53 4.13 L12.49 5.81 L12.73 6.37 L14.65 6.83 L14.65 9.17 L12.73 9.63 L12.49 10.19 L13.53 11.87 L11.87 13.53 L10.19 12.49 L9.63 12.73 L9.17 14.65 L6.83 14.65 L6.37 12.73 L5.81 12.49 L4.13 13.53 L2.47 11.87 L3.51 10.19 L3.27 9.63 L1.35 9.17 L1.35 6.83 L3.27 6.37 L3.51 5.81 L2.47 4.13 L4.13 2.47 L5.81 3.51Z" fill="#fbe09a" stroke="#dca744" stroke-width="0.95" stroke-linejoin="round"/><circle cx="8" cy="8" r="2.1" fill="#fff3cc" stroke="#dca744" stroke-width="0.9"/></svg></div><div style="position:absolute;left:728.90px;top:463.92px;width:16px;height:16px"><svg width="16" height="16" viewBox="0 0 16 16"><path d="M6.37 3.27 L6.83 1.35 L9.17 1.35 L9.63 3.27 L10.19 3.51 L11.87 2.47 L13.53 4.13 L12.49 5.81 L12.73 6.37 L14.65 6.83 L14.65 9.17 L12.73 9.63 L12.49 10.19 L13.53 11.87 L11.87 13.53 L10.19 12.49 L9.63 12.73 L9.17 14.65 L6.83 14.65 L6.37 12.73 L5.81 12.49 L4.13 13.53 L2.47 11.87 L3.51 10.19 L3.27 9.63 L1.35 9.17 L1.35 6.83 L3.27 6.37 L3.51 5.81 L2.47 4.13 L4.13 2.47 L5.81 3.51Z" fill="#fbe09a" stroke="#dca744" stroke-width="0.95" stroke-linejoin="round"/><circle cx="8" cy="8" r="2.1" fill="#fff3cc" stroke="#dca744" stroke-width="0.9"/></svg></div><div style="position:absolute;left:794.50px;top:464.15px;width:16px;height:16px"><svg width="16" height="16" viewBox="0 0 16 16"><circle cx="8" cy="8" r="6.2" fill="none" stroke="#d9dcdf" stroke-width="1.0"/><path d="M3.7 3.7 L12.3 12.3" stroke="#d9dcdf" stroke-width="1.0"/></svg></div><div style="position:absolute;left:859.50px;top:464.15px;width:16px;height:16px"><svg width="16" height="16" viewBox="0 0 16 16"><circle cx="8" cy="8" r="6.2" fill="none" stroke="#d9dcdf" stroke-width="1.0"/><path d="M3.7 3.7 L12.3 12.3" stroke="#d9dcdf" stroke-width="1.0"/></svg></div><div style="position:absolute;left:921.60px;top:463.92px;width:16px;height:16px"><svg width="16" height="16" viewBox="0 0 16 16"><path d="M6.37 3.27 L6.83 1.35 L9.17 1.35 L9.63 3.27 L10.19 3.51 L11.87 2.47 L13.53 4.13 L12.49 5.81 L12.73 6.37 L14.65 6.83 L14.65 9.17 L12.73 9.63 L12.49 10.19 L13.53 11.87 L11.87 13.53 L10.19 12.49 L9.63 12.73 L9.17 14.65 L6.83 14.65 L6.37 12.73 L5.81 12.49 L4.13 13.53 L2.47 11.87 L3.51 10.19 L3.27 9.63 L1.35 9.17 L1.35 6.83 L3.27 6.37 L3.51 5.81 L2.47 4.13 L4.13 2.47 L5.81 3.51Z" fill="#fbe09a" stroke="#dca744" stroke-width="0.95" stroke-linejoin="round"/><circle cx="8" cy="8" r="2.1" fill="#fff3cc" stroke="#dca744" stroke-width="0.9"/></svg></div><div style="position:absolute;left:26px;top:539px;width:941px;height:1px;background:#eceff3"></div><div class="t" style="left:39.4px;top:510px;font-size:11.5px;line-height:14px;color:#3c3c3c;letter-spacing:0.344px;">Contractor</div>
<div style="position:absolute;left:459.50px;top:508.88px;width:16px;height:16px"><svg width="16" height="16" viewBox="0 0 16 16"><circle cx="8" cy="8" r="6.2" fill="none" stroke="#d9dcdf" stroke-width="1.0"/><path d="M3.7 3.7 L12.3 12.3" stroke="#d9dcdf" stroke-width="1.0"/></svg></div><div style="position:absolute;left:533.70px;top:509.08px;width:16px;height:16px"><svg width="16" height="16" viewBox="0 0 16 16"><circle cx="8" cy="3.25" r="2.3" fill="#fff" stroke="#4f94ba" stroke-width="0.95"/><path d="M3.9 14.45 V11.7 C3.9 8.7 5.8 7.0 8 7.0 C10.2 7.0 12.1 8.7 12.1 11.7 V14.45 Z" fill="#eaedf0" stroke="#4f94ba" stroke-width="0.95" stroke-linejoin="round"/></svg></div><div style="position:absolute;left:598.90px;top:509.08px;width:16px;height:16px"><svg width="16" height="16" viewBox="0 0 16 16"><circle cx="8" cy="3.25" r="2.3" fill="#fff" stroke="#4f94ba" stroke-width="0.95"/><path d="M3.9 14.45 V11.7 C3.9 8.7 5.8 7.0 8 7.0 C10.2 7.0 12.1 8.7 12.1 11.7 V14.45 Z" fill="#eaedf0" stroke="#4f94ba" stroke-width="0.95" stroke-linejoin="round"/></svg></div><div style="position:absolute;left:663.70px;top:509.08px;width:16px;height:16px"><svg width="16" height="16" viewBox="0 0 16 16"><circle cx="8" cy="3.25" r="2.3" fill="#fff" stroke="#4f94ba" stroke-width="0.95"/><path d="M3.9 14.45 V11.7 C3.9 8.7 5.8 7.0 8 7.0 C10.2 7.0 12.1 8.7 12.1 11.7 V14.45 Z" fill="#eaedf0" stroke="#4f94ba" stroke-width="0.95" stroke-linejoin="round"/></svg></div><div style="position:absolute;left:729.30px;top:508.88px;width:16px;height:16px"><svg width="16" height="16" viewBox="0 0 16 16"><circle cx="8" cy="8" r="6.2" fill="none" stroke="#d9dcdf" stroke-width="1.0"/><path d="M3.7 3.7 L12.3 12.3" stroke="#d9dcdf" stroke-width="1.0"/></svg></div><div style="position:absolute;left:794.50px;top:508.88px;width:16px;height:16px"><svg width="16" height="16" viewBox="0 0 16 16"><circle cx="8" cy="8" r="6.2" fill="none" stroke="#d9dcdf" stroke-width="1.0"/><path d="M3.7 3.7 L12.3 12.3" stroke="#d9dcdf" stroke-width="1.0"/></svg></div><div style="position:absolute;left:859.50px;top:509.08px;width:16px;height:16px"><svg width="16" height="16" viewBox="0 0 16 16"><circle cx="8" cy="3.25" r="2.3" fill="#fff" stroke="#4f94ba" stroke-width="0.95"/><path d="M3.9 14.45 V11.7 C3.9 8.7 5.8 7.0 8 7.0 C10.2 7.0 12.1 8.7 12.1 11.7 V14.45 Z" fill="#eaedf0" stroke="#4f94ba" stroke-width="0.95" stroke-linejoin="round"/></svg></div><div style="position:absolute;left:922.00px;top:509.08px;width:16px;height:16px"><svg width="16" height="16" viewBox="0 0 16 16"><circle cx="8" cy="3.25" r="2.3" fill="#fff" stroke="#4f94ba" stroke-width="0.95"/><path d="M3.9 14.45 V11.7 C3.9 8.7 5.8 7.0 8 7.0 C10.2 7.0 12.1 8.7 12.1 11.7 V14.45 Z" fill="#eaedf0" stroke="#4f94ba" stroke-width="0.95" stroke-linejoin="round"/></svg></div><div class="t" style="left:39.4px;top:555px;font-size:11.5px;line-height:14px;color:#3c3c3c;letter-spacing:0.175px;">Cost Engineer</div>
<div style="position:absolute;left:459.50px;top:553.61px;width:16px;height:16px"><svg width="16" height="16" viewBox="0 0 16 16"><circle cx="8" cy="8" r="6.2" fill="none" stroke="#d9dcdf" stroke-width="1.0"/><path d="M3.7 3.7 L12.3 12.3" stroke="#d9dcdf" stroke-width="1.0"/></svg></div><div style="position:absolute;left:533.70px;top:553.81px;width:16px;height:16px"><svg width="16" height="16" viewBox="0 0 16 16"><circle cx="8" cy="3.25" r="2.3" fill="#fff" stroke="#4f94ba" stroke-width="0.95"/><path d="M3.9 14.45 V11.7 C3.9 8.7 5.8 7.0 8 7.0 C10.2 7.0 12.1 8.7 12.1 11.7 V14.45 Z" fill="#eaedf0" stroke="#4f94ba" stroke-width="0.95" stroke-linejoin="round"/></svg></div><div style="position:absolute;left:598.90px;top:553.81px;width:16px;height:16px"><svg width="16" height="16" viewBox="0 0 16 16"><circle cx="8" cy="3.25" r="2.3" fill="#fff" stroke="#4f94ba" stroke-width="0.95"/><path d="M3.9 14.45 V11.7 C3.9 8.7 5.8 7.0 8 7.0 C10.2 7.0 12.1 8.7 12.1 11.7 V14.45 Z" fill="#eaedf0" stroke="#4f94ba" stroke-width="0.95" stroke-linejoin="round"/></svg></div><div style="position:absolute;left:663.70px;top:553.81px;width:16px;height:16px"><svg width="16" height="16" viewBox="0 0 16 16"><circle cx="8" cy="3.25" r="2.3" fill="#fff" stroke="#4f94ba" stroke-width="0.95"/><path d="M3.9 14.45 V11.7 C3.9 8.7 5.8 7.0 8 7.0 C10.2 7.0 12.1 8.7 12.1 11.7 V14.45 Z" fill="#eaedf0" stroke="#4f94ba" stroke-width="0.95" stroke-linejoin="round"/></svg></div><div style="position:absolute;left:729.30px;top:553.81px;width:16px;height:16px"><svg width="16" height="16" viewBox="0 0 16 16"><circle cx="8" cy="3.25" r="2.3" fill="#fff" stroke="#4f94ba" stroke-width="0.95"/><path d="M3.9 14.45 V11.7 C3.9 8.7 5.8 7.0 8 7.0 C10.2 7.0 12.1 8.7 12.1 11.7 V14.45 Z" fill="#eaedf0" stroke="#4f94ba" stroke-width="0.95" stroke-linejoin="round"/></svg></div><div style="position:absolute;left:794.50px;top:553.61px;width:16px;height:16px"><svg width="16" height="16" viewBox="0 0 16 16"><circle cx="8" cy="8" r="6.2" fill="none" stroke="#d9dcdf" stroke-width="1.0"/><path d="M3.7 3.7 L12.3 12.3" stroke="#d9dcdf" stroke-width="1.0"/></svg></div><div style="position:absolute;left:859.50px;top:553.61px;width:16px;height:16px"><svg width="16" height="16" viewBox="0 0 16 16"><circle cx="8" cy="8" r="6.2" fill="none" stroke="#d9dcdf" stroke-width="1.0"/><path d="M3.7 3.7 L12.3 12.3" stroke="#d9dcdf" stroke-width="1.0"/></svg></div><div style="position:absolute;left:922.00px;top:553.81px;width:16px;height:16px"><svg width="16" height="16" viewBox="0 0 16 16"><circle cx="8" cy="3.25" r="2.3" fill="#fff" stroke="#4f94ba" stroke-width="0.95"/><path d="M3.9 14.45 V11.7 C3.9 8.7 5.8 7.0 8 7.0 C10.2 7.0 12.1 8.7 12.1 11.7 V14.45 Z" fill="#eaedf0" stroke="#4f94ba" stroke-width="0.95" stroke-linejoin="round"/></svg></div><div style="position:absolute;left:0;top:613px;width:1007px;height:1px;background:#f6f7f9"></div><div style="position:absolute;left:1004px;top:611px;width:3px;height:2px;background:#8a8d91"></div><div class="t" style="left:39.5px;top:584px;font-size:12px;line-height:15px;color:#8c9196;letter-spacing:0.021px;">Showing 1 - 36 of 36</div>
<svg style="position:absolute;left:846px;top:584px" width="124" height="14" viewBox="0 0 124 14"><path d="M6 2.5 L2.5 6.5 L6 10.5 M10.5 2.5 L7 6.5 L10.5 10.5" stroke="#cdd1d6" stroke-width="1" fill="none"/><path d="M26.5 2.5 L23 6.5 L26.5 10.5" stroke="#cdd1d6" stroke-width="1" fill="none"/><path d="M94.5 2.5 L98 6.5 L94.5 10.5" stroke="#cdd1d6" stroke-width="1" fill="none"/><path d="M110.5 10.5 L115 5.5 M115 10.5 L119.5 5.5" stroke="#cdd1d6" stroke-width="1" fill="none"/></svg><div class="t" style="left:892.7px;top:584px;font-size:12px;line-height:15px;color:#3c3c3c;font-weight:bold;transform:scaleX(0.75);transform-origin:0 0;">1</div>
<div class="t" style="left:901px;top:584px;font-size:12px;line-height:15px;color:#8c9196;letter-spacing:0.4px;">of</div>
<div class="t" style="left:916px;top:584px;font-size:12px;line-height:15px;color:#3c3c3c;font-weight:bold;transform:scaleX(0.75);transform-origin:0 0;">1</div>

</body></html>
